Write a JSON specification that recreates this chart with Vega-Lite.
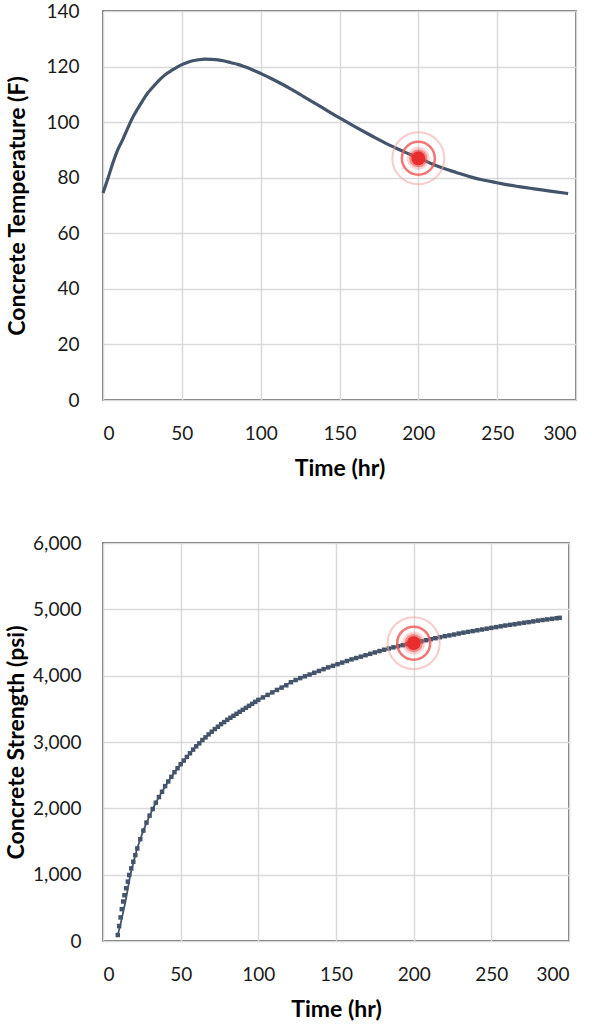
{
  "$schema": "https://vega.github.io/schema/vega-lite/v6.json",
  "padding": {"left": 4, "top": 1, "right": 5, "bottom": 5},
  "background": "white",
  "spacing": 52,
  "datasets": {
    "temp": [
      {"hours": 0, "temperature": 74.5}, {"hours": 3, "temperature": 79.5}, {"hours": 6.25, "temperature": 85.3},
      {"hours": 9, "temperature": 89.6}, {"hours": 12.5, "temperature": 93.7}, {"hours": 15.5, "temperature": 97.6},
      {"hours": 18.75, "temperature": 101.6}, {"hours": 22, "temperature": 104.8}, {"hours": 25, "temperature": 107.6},
      {"hours": 28, "temperature": 110.2}, {"hours": 31.25, "temperature": 112.4}, {"hours": 34.5, "temperature": 114.4},
      {"hours": 37.5, "temperature": 116.1}, {"hours": 40.5, "temperature": 117.5}, {"hours": 43.75, "temperature": 118.7},
      {"hours": 47, "temperature": 119.8}, {"hours": 50, "temperature": 120.7}, {"hours": 53, "temperature": 121.4},
      {"hours": 56.25, "temperature": 122.0}, {"hours": 60, "temperature": 122.4}, {"hours": 64.6, "temperature": 122.7},
      {"hours": 69, "temperature": 122.6}, {"hours": 72.9, "temperature": 122.4}, {"hours": 77, "temperature": 122.0},
      {"hours": 81.25, "temperature": 121.4}, {"hours": 85.5, "temperature": 120.8}, {"hours": 89.6, "temperature": 120.0},
      {"hours": 95, "temperature": 118.8}, {"hours": 100, "temperature": 117.5}, {"hours": 106, "temperature": 115.9},
      {"hours": 112.5, "temperature": 114.0}, {"hours": 119, "temperature": 112.0}, {"hours": 125, "temperature": 110.0},
      {"hours": 131, "temperature": 107.9}, {"hours": 137.5, "temperature": 105.8}, {"hours": 143.5, "temperature": 103.7},
      {"hours": 150, "temperature": 101.5}, {"hours": 160, "temperature": 98.3}, {"hours": 170, "temperature": 95.2},
      {"hours": 180, "temperature": 92.2}, {"hours": 190.8, "temperature": 89.4}, {"hours": 200.6, "temperature": 87.0},
      {"hours": 208, "temperature": 85.1}, {"hours": 215.8, "temperature": 83.4}, {"hours": 224, "temperature": 81.9},
      {"hours": 232.5, "temperature": 80.4}, {"hours": 241, "temperature": 79.2}, {"hours": 249.8, "temperature": 78.2},
      {"hours": 257, "temperature": 77.4}, {"hours": 263.75, "temperature": 76.8}, {"hours": 271, "temperature": 76.2},
      {"hours": 278.3, "temperature": 75.6}, {"hours": 286, "temperature": 75.0}, {"hours": 295, "temperature": 74.3}
    ],
    "tempMarker": [{"hours": 200, "temperature": 87}],
    "strengthFit": [
      {"hours": 9.5, "strength": 90}, {"hours": 11, "strength": 230}, {"hours": 12, "strength": 330},
      {"hours": 13.4, "strength": 478}, {"hours": 15, "strength": 660}, {"hours": 17.6, "strength": 995},
      {"hours": 20, "strength": 1220}, {"hours": 22, "strength": 1390}, {"hours": 25, "strength": 1600},
      {"hours": 28, "strength": 1780}, {"hours": 31, "strength": 1940}, {"hours": 34, "strength": 2080},
      {"hours": 37, "strength": 2210}, {"hours": 40, "strength": 2330}, {"hours": 43, "strength": 2440},
      {"hours": 46, "strength": 2540}, {"hours": 50, "strength": 2660}, {"hours": 55, "strength": 2800},
      {"hours": 60, "strength": 2935}, {"hours": 65, "strength": 3050}, {"hours": 70, "strength": 3155},
      {"hours": 75, "strength": 3250}, {"hours": 80, "strength": 3335}, {"hours": 90, "strength": 3485},
      {"hours": 100, "strength": 3635}, {"hours": 110, "strength": 3760}, {"hours": 120, "strength": 3890},
      {"hours": 130, "strength": 3990}, {"hours": 140, "strength": 4080}, {"hours": 150, "strength": 4165},
      {"hours": 160, "strength": 4245}, {"hours": 170, "strength": 4315}, {"hours": 180, "strength": 4385},
      {"hours": 190, "strength": 4445}, {"hours": 200, "strength": 4495}, {"hours": 210, "strength": 4545},
      {"hours": 220, "strength": 4595}, {"hours": 230, "strength": 4640}, {"hours": 240, "strength": 4680},
      {"hours": 250, "strength": 4720}, {"hours": 260, "strength": 4760}, {"hours": 270, "strength": 4795},
      {"hours": 280, "strength": 4830}, {"hours": 290, "strength": 4860}, {"hours": 294, "strength": 4872}
    ],
    "strengthMeasured": [
      {"hours": 9.5, "strength": 90}, {"hours": 10.4, "strength": 225}, {"hours": 11.3, "strength": 355},
      {"hours": 12.1, "strength": 480}, {"hours": 13.0, "strength": 595}, {"hours": 13.8, "strength": 690},
      {"hours": 14.9, "strength": 795}, {"hours": 16.0, "strength": 895}, {"hours": 16.9, "strength": 995},
      {"hours": 18.2, "strength": 1095}, {"hours": 19.5, "strength": 1195}, {"hours": 20.8, "strength": 1295},
      {"hours": 22.1, "strength": 1395}, {"hours": 24, "strength": 1535}, {"hours": 26, "strength": 1665},
      {"hours": 28, "strength": 1785}, {"hours": 30, "strength": 1890}, {"hours": 32, "strength": 1990},
      {"hours": 34, "strength": 2085}, {"hours": 36, "strength": 2170}, {"hours": 38, "strength": 2250},
      {"hours": 40, "strength": 2335}, {"hours": 42, "strength": 2405}, {"hours": 44, "strength": 2475},
      {"hours": 46, "strength": 2545}, {"hours": 48, "strength": 2605}, {"hours": 50, "strength": 2665},
      {"hours": 52, "strength": 2720}, {"hours": 54, "strength": 2775}, {"hours": 56, "strength": 2830},
      {"hours": 58, "strength": 2885}, {"hours": 60, "strength": 2935}, {"hours": 62, "strength": 2980},
      {"hours": 64, "strength": 3030}, {"hours": 66, "strength": 3070}, {"hours": 68, "strength": 3115},
      {"hours": 70, "strength": 3155}, {"hours": 72, "strength": 3195}, {"hours": 74, "strength": 3230},
      {"hours": 76, "strength": 3270}, {"hours": 78, "strength": 3300}, {"hours": 80, "strength": 3335},
      {"hours": 82, "strength": 3365}, {"hours": 84, "strength": 3395}, {"hours": 86, "strength": 3425},
      {"hours": 88, "strength": 3455}, {"hours": 90, "strength": 3485}, {"hours": 92, "strength": 3515},
      {"hours": 94, "strength": 3545}, {"hours": 96, "strength": 3575}, {"hours": 98, "strength": 3605},
      {"hours": 100, "strength": 3635}, {"hours": 103, "strength": 3672}, {"hours": 106, "strength": 3710},
      {"hours": 109, "strength": 3748}, {"hours": 112, "strength": 3785}, {"hours": 115, "strength": 3820},
      {"hours": 118, "strength": 3855}, {"hours": 121, "strength": 3901}, {"hours": 124, "strength": 3934},
      {"hours": 127, "strength": 3963}, {"hours": 130, "strength": 3990}, {"hours": 133, "strength": 4017},
      {"hours": 136, "strength": 4044}, {"hours": 139, "strength": 4071}, {"hours": 142, "strength": 4098},
      {"hours": 145, "strength": 4125}, {"hours": 148, "strength": 4149}, {"hours": 151, "strength": 4173},
      {"hours": 154, "strength": 4197}, {"hours": 157, "strength": 4221}, {"hours": 160, "strength": 4245},
      {"hours": 163, "strength": 4266}, {"hours": 166, "strength": 4287}, {"hours": 169, "strength": 4308},
      {"hours": 172, "strength": 4329}, {"hours": 175, "strength": 4350}, {"hours": 178, "strength": 4371},
      {"hours": 181, "strength": 4391}, {"hours": 184, "strength": 4409}, {"hours": 187, "strength": 4427},
      {"hours": 190, "strength": 4445}, {"hours": 193, "strength": 4460}, {"hours": 196, "strength": 4475},
      {"hours": 199, "strength": 4490}, {"hours": 202, "strength": 4505}, {"hours": 205, "strength": 4520},
      {"hours": 208, "strength": 4535}, {"hours": 211, "strength": 4550}, {"hours": 214, "strength": 4565},
      {"hours": 217, "strength": 4580}, {"hours": 220, "strength": 4595}, {"hours": 223, "strength": 4607},
      {"hours": 226, "strength": 4620}, {"hours": 229, "strength": 4635}, {"hours": 232, "strength": 4648},
      {"hours": 235, "strength": 4660}, {"hours": 238, "strength": 4672}, {"hours": 241, "strength": 4684},
      {"hours": 244, "strength": 4696}, {"hours": 247, "strength": 4708}, {"hours": 250, "strength": 4720},
      {"hours": 253, "strength": 4732}, {"hours": 256, "strength": 4744}, {"hours": 259, "strength": 4756},
      {"hours": 262, "strength": 4766}, {"hours": 265, "strength": 4775}, {"hours": 268, "strength": 4787},
      {"hours": 271, "strength": 4798}, {"hours": 274, "strength": 4807}, {"hours": 277, "strength": 4818},
      {"hours": 280, "strength": 4830}, {"hours": 283, "strength": 4839}, {"hours": 286, "strength": 4848},
      {"hours": 289, "strength": 4857}, {"hours": 292, "strength": 4866}, {"hours": 294, "strength": 4872}
    ],
    "strengthMarker": [{"hours": 200, "strength": 4490}]
  },
  "vconcat": [
    {
      "width": 473,
      "height": 389,
      "encoding": {
        "x": {
          "field": "hours", "type": "quantitative",
          "scale": {"domain": [0, 300], "nice": false},
          "axis": {"values": [0, 50, 100, 150, 200, 250, 300], "title": "Time (hr)"}
        },
        "y": {
          "field": "temperature", "type": "quantitative",
          "scale": {"domain": [0, 140], "nice": false},
          "axis": {"values": [0, 20, 40, 60, 80, 100, 120, 140], "title": "Concrete Temperature (F)", "minExtent": 60, "maxExtent": 60, "titlePadding": 14}
        }
      },
      "layer": [
        {"data": {"name": "temp"}, "mark": {"type": "line", "color": "#44546A", "strokeWidth": 3.2, "interpolate": "monotone"}},
        {"data": {"name": "tempMarker"}, "mark": {"type": "point", "shape": "circle", "filled": false, "size": 2704, "stroke": "#f3a3a3", "strokeWidth": 2, "opacity": 0.55}},
        {"data": {"name": "tempMarker"}, "mark": {"type": "point", "shape": "circle", "filled": false, "size": 1089, "stroke": "#ef5f5f", "strokeWidth": 2.5, "opacity": 0.85}},
        {"data": {"name": "tempMarker"}, "mark": {"type": "point", "shape": "circle", "filled": true, "size": 520, "color": "#f37272", "opacity": 0.3}},
        {"data": {"name": "tempMarker"}, "mark": {"type": "point", "shape": "circle", "filled": true, "size": 330, "color": "#ee4a4a", "opacity": 0.55}},
        {"data": {"name": "tempMarker"}, "mark": {"type": "point", "shape": "circle", "filled": true, "size": 190, "color": "#e92c2c", "opacity": 1}}
      ]
    },
    {
      "width": 466,
      "height": 398,
      "encoding": {
        "x": {
          "field": "hours", "type": "quantitative",
          "scale": {"domain": [0, 300], "nice": false},
          "axis": {"values": [0, 50, 100, 150, 200, 250, 300], "title": "Time (hr)"}
        },
        "y": {
          "field": "strength", "type": "quantitative",
          "scale": {"domain": [0, 6000], "nice": false},
          "axis": {"values": [0, 1000, 2000, 3000, 4000, 5000, 6000], "format": ",d", "title": "Concrete Strength (psi)", "labelPadding": 22, "minExtent": 72, "maxExtent": 72, "titlePadding": 3}
        }
      },
      "layer": [
        {"data": {"name": "strengthMeasured"}, "mark": {"type": "point", "shape": "square", "filled": true, "size": 20, "color": "#44546A", "opacity": 1}},
        {"data": {"name": "strengthFit"}, "mark": {"type": "line", "color": "#44546A", "strokeWidth": 1.8, "interpolate": "monotone"}},
        {"data": {"name": "strengthMarker"}, "mark": {"type": "point", "shape": "circle", "filled": false, "size": 2704, "stroke": "#f3a3a3", "strokeWidth": 2, "opacity": 0.55}},
        {"data": {"name": "strengthMarker"}, "mark": {"type": "point", "shape": "circle", "filled": false, "size": 1089, "stroke": "#ef5f5f", "strokeWidth": 2.5, "opacity": 0.85}},
        {"data": {"name": "strengthMarker"}, "mark": {"type": "point", "shape": "circle", "filled": true, "size": 520, "color": "#f37272", "opacity": 0.3}},
        {"data": {"name": "strengthMarker"}, "mark": {"type": "point", "shape": "circle", "filled": true, "size": 330, "color": "#ee4a4a", "opacity": 0.55}},
        {"data": {"name": "strengthMarker"}, "mark": {"type": "point", "shape": "circle", "filled": true, "size": 190, "color": "#e92c2c", "opacity": 1}}
      ]
    }
  ],
  "config": {
    "view": {"stroke": "#404040", "strokeWidth": 1.5},
    "axis": {
      "labelFont": "Lato",
      "labelFontSize": 19,
      "labelColor": "#1a1a1a",
      "labelPadding": 24,
      "titleFont": "Lato",
      "titleFontSize": 23,
      "titleFontWeight": "bold",
      "titleColor": "#000000",
      "gridColor": "#d9d9d9",
      "gridWidth": 1.5,
      "domain": false,
      "ticks": false
    },
    "axisX": {"labelPadding": 24, "titlePadding": 14}
  }
}
